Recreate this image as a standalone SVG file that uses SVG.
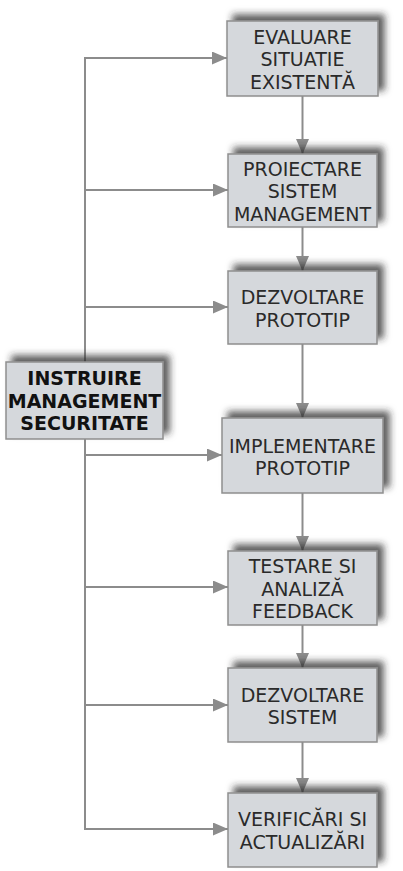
<svg xmlns="http://www.w3.org/2000/svg" width="403" height="871" viewBox="0 0 403 871">
<style>
.box{fill:#d5d8dc;stroke:#8e8e8e;stroke-width:1.5;filter:url(#sh)}
.t{font-family:"DejaVu Sans",Verdana,sans-serif;font-size:19px;fill:#2a2a2a;text-anchor:middle}
.b{font-family:"DejaVu Sans",Verdana,sans-serif;font-size:19px;font-weight:bold;fill:#111;text-anchor:middle}
.c{stroke:#8c8c8c;stroke-width:2;fill:none}
.a{marker-end:url(#ar)}
</style>
<defs>
<filter id="sh" x="-20%" y="-30%" width="140%" height="160%">
<feDropShadow dx="6" dy="-6" stdDeviation="3.5" flood-color="#2a2a2a" flood-opacity="0.75"/>
</filter>
<marker id="ar" markerUnits="userSpaceOnUse" markerWidth="16" markerHeight="14" refX="15" refY="6.5" orient="auto">
<path d="M0,0 L15,6.5 L0,13 Z" fill="#8c8c8c"/>
</marker>
</defs>
<g id="connectors">
<line class="c" x1="85" y1="58" x2="85" y2="830"/>
<line class="c a" x1="84" y1="58" x2="227" y2="58"/>
<line class="c a" x1="84" y1="190" x2="228" y2="190"/>
<line class="c a" x1="84" y1="307" x2="228" y2="307"/>
<line class="c a" x1="84" y1="455" x2="222" y2="455"/>
<line class="c a" x1="84" y1="587" x2="228" y2="587"/>
<line class="c a" x1="84" y1="705" x2="228" y2="705"/>
<line class="c a" x1="84" y1="829" x2="228" y2="829"/>
<line class="c a" x1="302.5" y1="96" x2="302.5" y2="154"/>
<line class="c a" x1="302.5" y1="227" x2="302.5" y2="271"/>
<line class="c a" x1="302.5" y1="344" x2="302.5" y2="418"/>
<line class="c a" x1="302.5" y1="493" x2="302.5" y2="551"/>
<line class="c a" x1="302.5" y1="625" x2="302.5" y2="668"/>
<line class="c a" x1="302.5" y1="742" x2="302.5" y2="793"/>
</g>
<g id="n-instruire">
<rect class="box" x="6" y="362" width="157" height="77"/>
<text class="b" x="84.5" y="385">INSTRUIRE</text>
<text class="b" x="84.5" y="407.5">MANAGEMENT</text>
<text class="b" x="84.5" y="430">SECURITATE</text>
</g>
<g id="n-evaluare">
<rect class="box" x="227" y="21" width="151" height="75"/>
<text class="t" x="302.5" y="43.5">EVALUARE</text>
<text class="t" x="302.5" y="66">SITUATIE</text>
<text class="t" x="302.5" y="88.5">EXISTENTĂ</text>
</g>
<g id="n-proiectare">
<rect class="box" x="228" y="154" width="149" height="73"/>
<text class="t" x="302.5" y="175.5">PROIECTARE</text>
<text class="t" x="302.5" y="198">SISTEM</text>
<text class="t" x="302.5" y="220.5">MANAGEMENT</text>
</g>
<g id="n-dezv-prototip">
<rect class="box" x="228" y="271" width="149" height="73"/>
<text class="t" x="302.5" y="304">DEZVOLTARE</text>
<text class="t" x="302.5" y="326.5">PROTOTIP</text>
</g>
<g id="n-implementare">
<rect class="box" x="222" y="418" width="161" height="75"/>
<text class="t" x="302.5" y="452.5">IMPLEMENTARE</text>
<text class="t" x="302.5" y="475">PROTOTIP</text>
</g>
<g id="n-testare">
<rect class="box" x="228" y="551" width="149" height="74"/>
<text class="t" x="302.5" y="573">TESTARE SI</text>
<text class="t" x="302.5" y="595.5">ANALIZĂ</text>
<text class="t" x="302.5" y="618">FEEDBACK</text>
</g>
<g id="n-dezv-sistem">
<rect class="box" x="228" y="668" width="149" height="74"/>
<text class="t" x="302.5" y="701.5">DEZVOLTARE</text>
<text class="t" x="302.5" y="723.5">SISTEM</text>
</g>
<g id="n-verificari">
<rect class="box" x="228" y="793" width="149" height="74"/>
<text class="t" x="302.5" y="826">VERIFICĂRI SI</text>
<text class="t" x="302.5" y="848.5">ACTUALIZĂRI</text>
</g>
</svg>
